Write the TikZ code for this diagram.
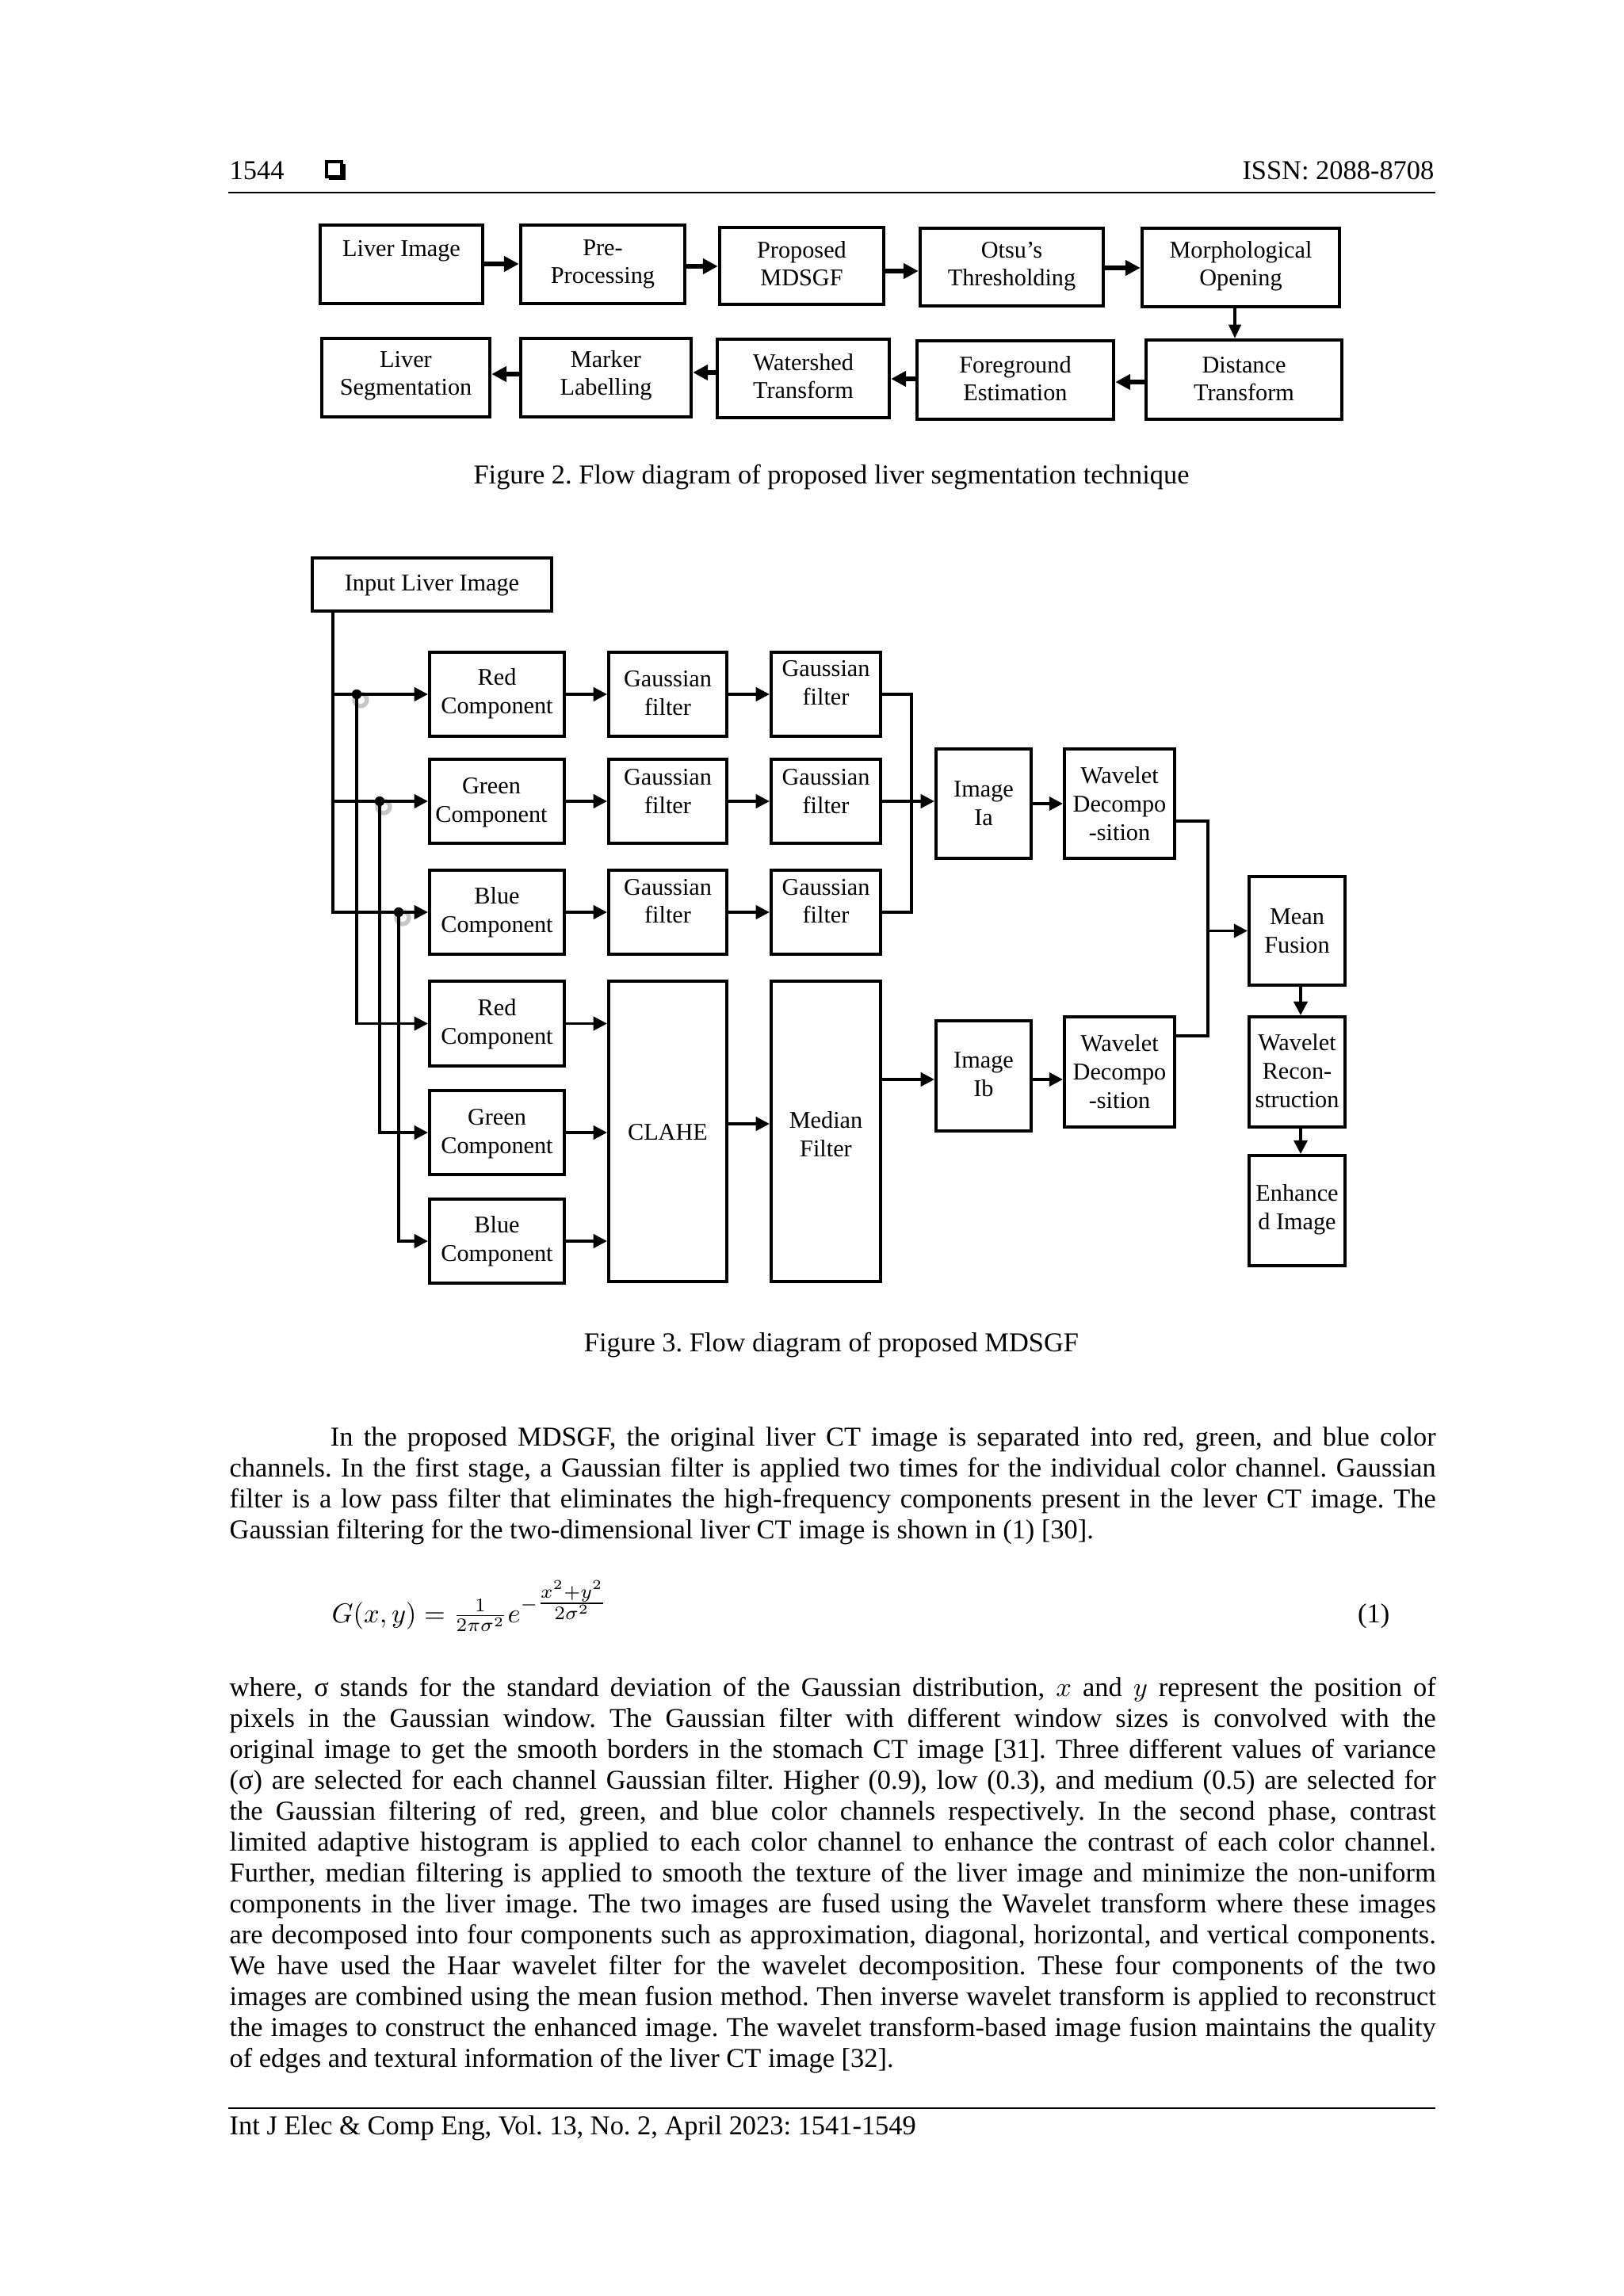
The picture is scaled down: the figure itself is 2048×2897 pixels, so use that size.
\documentclass[tikz,border=0pt]{standalone}
\usepackage{amsmath}
\usepackage{fontspec}
\setmainfont{Liberation Serif}
\frenchspacing
\usetikzlibrary{arrows.meta,fit,calc}
\tikzset{
 boxA/.style={draw, line width=1.3pt, inner sep=0pt, rectangle},
 boxB/.style={draw, line width=1.2pt, inner sep=0pt, rectangle},
 txtA/.style={align=center, inner sep=0pt, font=\fontsize{8.8}{10.2}\selectfont},
 txtB/.style={align=center, inner sep=0pt, font=\fontsize{8.8}{10.4}\selectfont},
 arrA/.style={line width=1.5pt, -{Triangle[length=5.5pt,width=5.5pt]}},
 arrAthin/.style={line width=0.9pt, -{Triangle[length=5pt,width=4.5pt]}},
 arrB/.style={line width=1pt, -{Triangle[length=5pt,width=5pt]}},
 lnB/.style={line width=1pt},
 bodytext/.style={anchor=base west, inner sep=0pt, font=\fontsize{10}{11.34}\selectfont},
 plain/.style={inner sep=0pt, font=\fontsize{10}{12}\selectfont},
}
\begin{document}
\begin{tikzpicture}[x=0.29066pt,y=-0.29066pt]
\fill[white] (0,0) rectangle (2048,2897);
\useasboundingbox (0,0) rectangle (2048,2897);

% ---------- header ----------
\node[plain, anchor=base west] (pgno) at (289,226) {1544};
\node[plain, anchor=base east] (issn) at (1810,226) {ISSN: 2088-8708};
\draw[line width=0.9pt] (412,204) rectangle (431,223);
\fill (431,207) rectangle (436,227);
\fill (415,223) rectangle (436,227);
\draw[line width=0.8pt] (288,243) -- (1811,243);

% ---------- Figure 2 ----------
\node[boxA, fit={(404,284) (609,383)}] (b1) {};
\node[boxA, fit={(657,284) (864,383)}] (b2) {};
\node[boxA, fit={(908,287) (1115,384)}] (b3) {};
\node[boxA, fit={(1161,288) (1392,386)}] (b4) {};
\node[boxA, fit={(1441,288) (1690,387)}] (b5) {};
\node[boxA, fit={(406,427) (618,526)}] (c1) {};
\node[boxA, fit={(657,427) (872,526)}] (c2) {};
\node[boxA, fit={(905,428) (1122,527)}] (c3) {};
\node[boxA, fit={(1157,430) (1405,529)}] (c4) {};
\node[boxA, fit={(1446,429) (1693,529)}] (c5) {};

\node[txtA] (b1t) at (506.5,317) {Liver Image};
\node[txtA] (b2t) at (760.5,333) {Pre-\\Processing};
\node[txtA] (b3t) at (1011.5,333) {Proposed\\MDSGF};
\node[txtA] (b4t) at (1276.5,336) {Otsu’s\\Thresholding};
\node[txtA] (b5t) at (1565.5,336) {Morphological\\Opening};
\node[txtA] (c1t) at (512,474) {Liver\\Segmentation};
\node[txtA] (c2t) at (764.5,474) {Marker\\Labelling};
\node[txtA] (c3t) at (1013.5,475) {Watershed\\Transform};
\node[txtA] (c4t) at (1281,478) {Foreground\\Estimation};
\node[txtA] (c5t) at (1569.5,478) {Distance\\Transform};

\draw[arrA] (b1.east |- 0,333) -- (b2.west |- 0,333);
\draw[arrA] (b2.east |- 0,336) -- (b3.west |- 0,336);
\draw[arrA] (b3.east |- 0,342) -- (b4.west |- 0,342);
\draw[arrA] (b4.east |- 0,338) -- (b5.west |- 0,338);
\draw[arrAthin] (b5.south -| 1558,0) -- (c5.north -| 1558,0);
\draw[arrA] (c5.west |- 0,482) -- (c4.east |- 0,482);
\draw[arrA] (c4.west |- 0,478) -- (c3.east |- 0,478);
\draw[arrA] (c3.west |- 0,470) -- (c2.east |- 0,470);
\draw[arrA] (c2.west |- 0,472) -- (c1.east |- 0,472);

\node[plain, anchor=base] (cap2) at (1049,610) {Figure 2. Flow diagram of proposed liver segmentation technique};

% ---------- Figure 3 ----------
\node[boxB, fit={(394,704) (696,771)}] (in) {};
\node[boxB, fit={(542,823) (712,929)}] (r1) {};
\node[boxB, fit={(768,823) (917,929)}] (g1r) {};
\node[boxB, fit={(973,823) (1111,929)}] (g2r) {};
\node[boxB, fit={(542,958) (712,1064)}] (r2) {};
\node[boxB, fit={(768,958) (917,1064)}] (g1g) {};
\node[boxB, fit={(973,958) (1111,1064)}] (g2g) {};
\node[boxB, fit={(542,1098) (712,1204)}] (r3) {};
\node[boxB, fit={(768,1098) (917,1204)}] (g1b) {};
\node[boxB, fit={(973,1098) (1111,1204)}] (g2b) {};
\node[boxB, fit={(542,1238) (712,1345)}] (lr) {};
\node[boxB, fit={(542,1376) (712,1482)}] (lg) {};
\node[boxB, fit={(542,1513) (712,1619)}] (lb) {};
\node[boxB, fit={(768,1238) (917,1617)}] (clahe) {};
\node[boxB, fit={(973,1238) (1111,1617)}] (median) {};
\node[boxB, fit={(1181,945) (1301,1083)}] (ia) {};
\node[boxB, fit={(1343,945) (1482,1083)}] (wd1) {};
\node[boxB, fit={(1181,1288) (1301,1427)}] (ib) {};
\node[boxB, fit={(1343,1283) (1482,1422)}] (wd2) {};
\node[boxB, fit={(1576,1106) (1697,1243)}] (mf) {};
\node[boxB, fit={(1576,1283) (1697,1422)}] (wr) {};
\node[boxB, fit={(1576,1458) (1697,1597)}] (enh) {};

\node[txtB] (int) at (545,739) {Input Liver Image};
\node[txtB] (r1t) at (627,875) {Red\\Component};
\node[txtB] (g1rt) at (842.5,875) {Gaussian\\filter};
\node[txtB] (g2rt) at (1042,862) {Gaussian\\filter};
\node[txtB] (r2t) at (620,1013) {Green\\Component};
\node[txtB] (g1gt) at (842.5,999) {Gaussian\\filter};
\node[txtB] (g2gt) at (1042,999) {Gaussian\\filter};
\node[txtB] (r3t) at (627,1151) {Blue\\Component};
\node[txtB] (g1bt) at (842.5,1137) {Gaussian\\filter};
\node[txtB] (g2bt) at (1042,1137) {Gaussian\\filter};
\node[txtB] (lrt) at (627,1292) {Red\\Component};
\node[txtB] (lgt) at (627,1431) {Green\\Component};
\node[txtB] (lbt) at (627,1566) {Blue\\Component};
\node[txtB] (clahet) at (842.5,1429) {CLAHE};
\node[txtB] (mediant) at (1042,1431) {Median\\Filter};
\node[txtB] (iat) at (1241,1014) {Image\\Ia};
\node[txtB] (wd1t) at (1412.5,1014) {Wavelet\\Decompo\\-sition};
\node[txtB] (ibt) at (1241,1356) {Image\\Ib};
\node[txtB] (wd2t) at (1412.5,1352) {Wavelet\\Decompo\\-sition};
\node[txtB] (mft) at (1636.5,1175) {Mean\\Fusion};
\node[txtB] (wrt) at (1636.5,1351) {Wavelet\\Recon-\\struction};
\node[txtB] (enht) at (1636.5,1526) {Enhance\\d Image};

\coordinate (T) at (420,771);
\coordinate (D1) at (450,0);
\coordinate (D2) at (479,0);
\coordinate (D3) at (503,0);
\coordinate (V) at (1150,0);
\coordinate (W) at (1524,0);

% grey rings (scan artefacts)
\draw[gray!45, line width=1.6pt] ($(D1 |- r1.west)+(5,7)$) circle[radius=2.3pt];
\draw[gray!45, line width=1.6pt] ($(D2 |- r2.west)+(5,7)$) circle[radius=2.3pt];
\draw[gray!45, line width=1.6pt] ($(D3 |- r3.west)+(5,7)$) circle[radius=2.3pt];

\draw[arrB] (in.south -| T) |- (r3.west);
\draw[arrB] (T |- r1.west) -- (r1.west);
\draw[arrB] (T |- r2.west) -- (r2.west);
\draw[arrB] (D1 |- r1.west) |- (lr.west);
\draw[arrB] (D2 |- r2.west) |- (lg.west);
\draw[arrB] (D3 |- r3.west) |- (lb.west);
\fill (D1 |- r1.west) circle[radius=1.8pt];
\fill (D2 |- r2.west) circle[radius=1.8pt];
\fill (D3 |- r3.west) circle[radius=1.8pt];

\draw[arrB] (r1.east) -- (g1r.west);
\draw[arrB] (g1r.east) -- (g2r.west);
\draw[arrB] (r2.east) -- (g1g.west);
\draw[arrB] (g1g.east) -- (g2g.west);
\draw[arrB] (r3.east) -- (g1b.west);
\draw[arrB] (g1b.east) -- (g2b.west);

\draw[lnB] (g2r.east) -| (V |- g2b.east) -- (g2b.east);
\draw[arrB] (g2g.east) -- (g2g.east -| ia.west);
\draw[arrB] (ia.east) -- (wd1.west);

\draw[arrB] (lr.east) -- (lr.east -| clahe.west);
\draw[arrB] (lg.east) -- (lg.east -| clahe.west);
\draw[arrB] (lb.east) -- (lb.east -| clahe.west);
\draw[arrB] (clahe.east |- 0,1418) -- (median.west |- 0,1418);
\draw[arrB] (median.east |- 0,1362) -- (ib.west |- 0,1362);
\draw[arrB] (ib.east |- 0,1362) -- (wd2.west |- 0,1362);

\draw[lnB] (wd1.east |- 0,1036) -| (W |- 0,1307) -- (wd2.east |- 0,1307);
\draw[arrB] (W |- mf.west) -- (mf.west);
\draw[arrB] (mf.south -| 1641,0) -- (wr.north -| 1641,0);
\draw[arrB] (wr.south -| 1641,0) -- (enh.north -| 1641,0);

\node[plain, anchor=base] (cap3) at (1049,1705) {Figure 3. Flow diagram of proposed MDSGF};

% ---------- body text ----------
\node[bodytext] (para1) at (289,1824) {\parbox[t]{442.4pt}{\hyphenpenalty=10000\tolerance=10000\hspace*{37pt}In the proposed MDSGF, the original liver CT image is separated into red, green, and blue color\linebreak
channels. In the first stage, a Gaussian filter is applied two times for the individual color channel. Gaussian\linebreak
filter is a low pass filter that eliminates the high-frequency components present in the lever CT image. The\linebreak
Gaussian filtering for the two-dimensional liver CT image is shown in (1) [30].}};

\node[bodytext, font=\fontsize{10.3}{12}\selectfont] (eq) at (418,2047) {$G(x,y)=\frac{1}{2\pi\sigma^2}e^{-\tfrac{x^2+y^2}{2\sigma^2}}$};
\node[bodytext, anchor=base east] (eqno) at (1754,2047) {(1)};

\node[bodytext] (para2) at (289,2140) {\parbox[t]{442.4pt}{\hyphenpenalty=10000\tolerance=10000 where, σ stands for the standard deviation of the Gaussian distribution, $x$ and $y$ represent the position of\linebreak
pixels in the Gaussian window. The Gaussian filter with different window sizes is convolved with the\linebreak
original image to get the smooth borders in the stomach CT image [31]. Three different values of variance\linebreak
(σ) are selected for each channel Gaussian filter. Higher (0.9), low (0.3), and medium (0.5) are selected for\linebreak
the Gaussian filtering of red, green, and blue color channels respectively. In the second phase, contrast\linebreak
limited adaptive histogram is applied to each color channel to enhance the contrast of each color channel.\linebreak
Further, median filtering is applied to smooth the texture of the liver image and minimize the non-uniform\linebreak
components in the liver image. The two images are fused using the Wavelet transform where these images\linebreak
are decomposed into four components such as approximation, diagonal, horizontal, and vertical components.\linebreak
We have used the Haar wavelet filter for the wavelet decomposition. These four components of the two\linebreak
images are combined using the mean fusion method. Then inverse wavelet transform is applied to reconstruct\linebreak
the images to construct the enhanced image. The wavelet transform-based image fusion maintains the quality\linebreak
of edges and textural information of the liver CT image [32].}};

% ---------- footer ----------
\draw[line width=0.8pt] (288,2660) -- (1811,2660);
\node[plain, anchor=base west] (foot) at (289,2693) {Int J Elec \& Comp Eng, Vol. 13, No. 2, April 2023: 1541-1549};
\end{tikzpicture}
\end{document}
